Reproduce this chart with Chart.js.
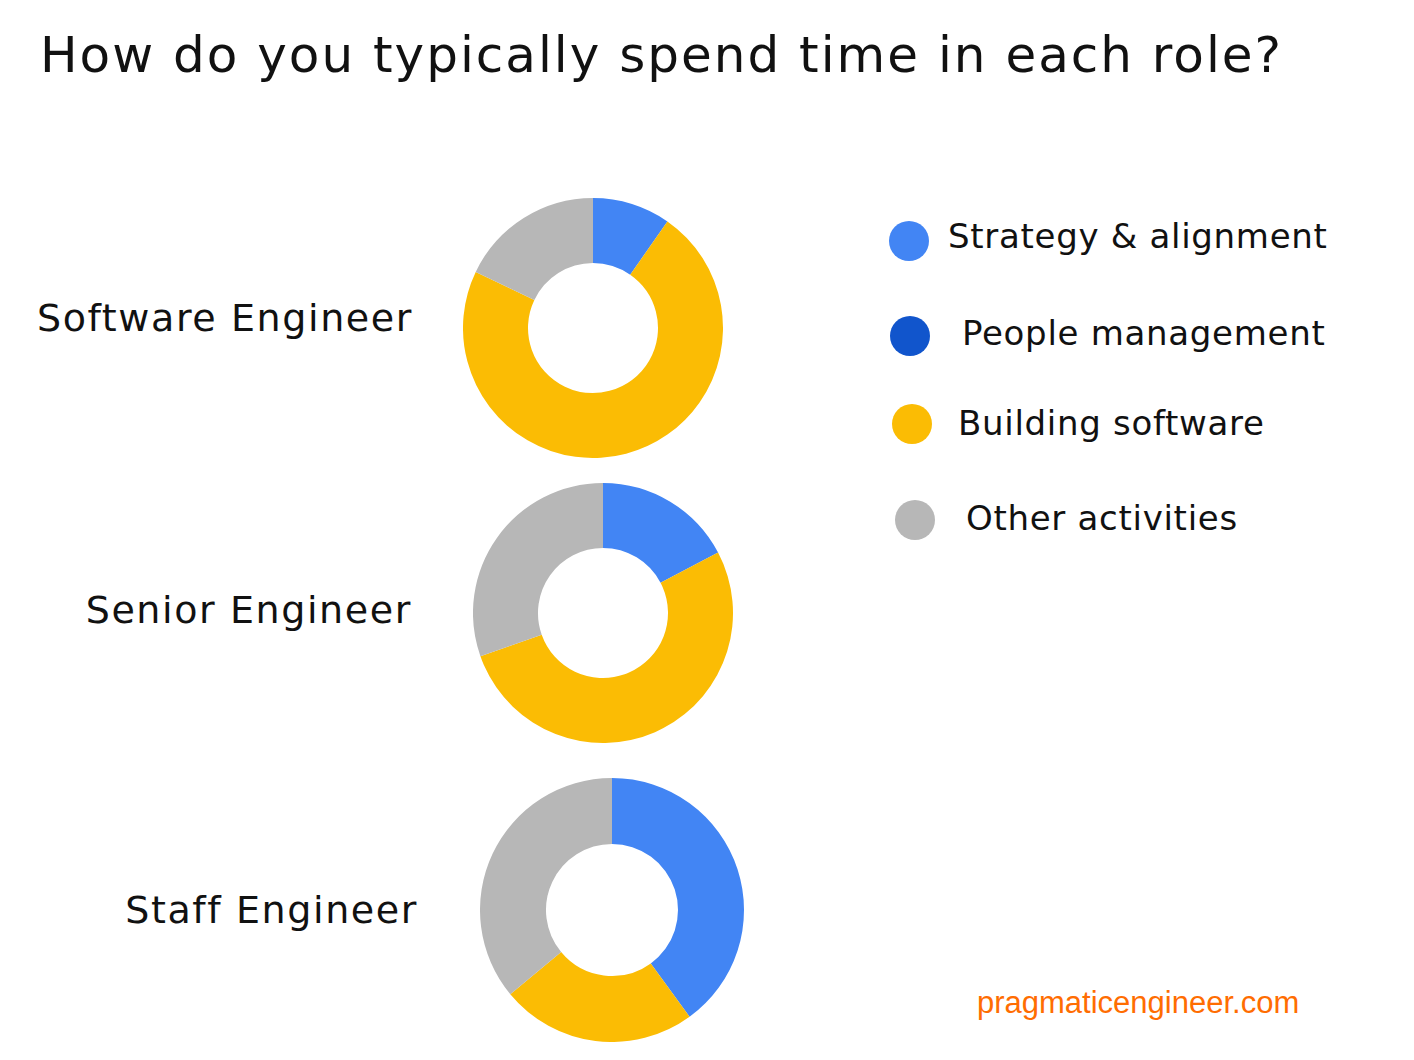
<!DOCTYPE html>
<html lang="en">
  <head>
    <meta charset="UTF-8" />
    <title>How do you typically spend time in each role?</title>
    <script src="https://cdn.jsdelivr.net/npm/chart.js@4.4.1/dist/chart.umd.min.js"></script>
    <style>
      body { margin: 0; background: #fff; width: 1414px; height: 1060px; position: relative; overflow: hidden; font-family: "DejaVu Sans", sans-serif; color: #111; }
      .title { position: absolute; left: 40px; top: 26px; font-size: 50px; letter-spacing: 2px; white-space: nowrap; }
      .role { position: absolute; font-size: 38px; letter-spacing: 1.6px; white-space: nowrap; text-align: right; width: 420px; }
      .donut { position: absolute; }
      .leg { position: absolute; font-size: 34px; letter-spacing: 0.7px; white-space: nowrap; }
      .dot { position: absolute; width: 40px; height: 40px; border-radius: 50%; }
      .site { position: absolute; left: 977px; top: 985px; font-family: "Liberation Sans", Arial, sans-serif; font-size: 31px; color: #ff6d01; }
    </style>
  </head>
  <body>
    <div class="title">How do you typically spend time in each role?</div>
    <div id="charts"></div>
    <div class="site">pragmaticengineer.com</div>

    <script>
      // activities (legend order) and colours
      var activities = ["Strategy & alignment", "People management", "Building software", "Other activities"];
      var colors = ["#4285f4", "#1155cc", "#fbbc04", "#b7b7b7"];

      var roles = ["Software Engineer", "Senior Engineer", "Staff Engineer"];
      var softwareEngineer = [9.7, 0, 72.4, 17.9];
      var seniorEngineer = [17.3, 0, 52.3, 30.4];
      var staffEngineer = [40, 0, 24, 36];
      var values = [softwareEngineer, seniorEngineer, staffEngineer];

      // layout only
      var centers = [[593, 328], [603, 613], [612, 910]];
      var radius = [130, 130, 132];
      var labelY = [320, 612, 912];
      var labelRight = [413, 412, 418];
      var legendDot = [[909, 241], [910, 336], [912, 424], [915, 520]];
      var legendText = [[948, 238], [962, 335], [958, 425], [966, 520]];

      var holder = document.getElementById("charts");

      roles.forEach(function (role, i) {
        var lab = document.createElement("div");
        lab.className = "role";
        lab.textContent = role;
        lab.style.left = (labelRight[i] - 420) + "px";
        lab.style.top = (labelY[i] - 24) + "px";
        holder.appendChild(lab);

        var d = radius[i] * 2;
        var box = document.createElement("div");
        box.className = "donut";
        box.style.left = (centers[i][0] - radius[i]) + "px";
        box.style.top = (centers[i][1] - radius[i]) + "px";
        box.style.width = d + "px";
        box.style.height = d + "px";
        var cv = document.createElement("canvas");
        box.appendChild(cv);
        holder.appendChild(box);

        new Chart(cv, {
          type: "doughnut",
          data: {
            labels: activities,
            datasets: [{
              data: values[i],
              backgroundColor: colors,
              borderWidth: 0
            }]
          },
          options: {
            responsive: true,
            maintainAspectRatio: false,
            animation: false,
            cutout: "50%",
            layout: { padding: 0 },
            plugins: {
              legend: { display: false },
              tooltip: { enabled: false }
            }
          }
        });
      });

      activities.forEach(function (name, j) {
        var dot = document.createElement("div");
        dot.className = "dot";
        dot.style.background = colors[j];
        dot.style.left = (legendDot[j][0] - 20) + "px";
        dot.style.top = (legendDot[j][1] - 20) + "px";
        holder.appendChild(dot);

        var t = document.createElement("div");
        t.className = "leg";
        t.textContent = name;
        t.style.left = legendText[j][0] + "px";
        t.style.top = (legendText[j][1] - 22) + "px";
        holder.appendChild(t);
      });
    </script>
  </body>
</html>
